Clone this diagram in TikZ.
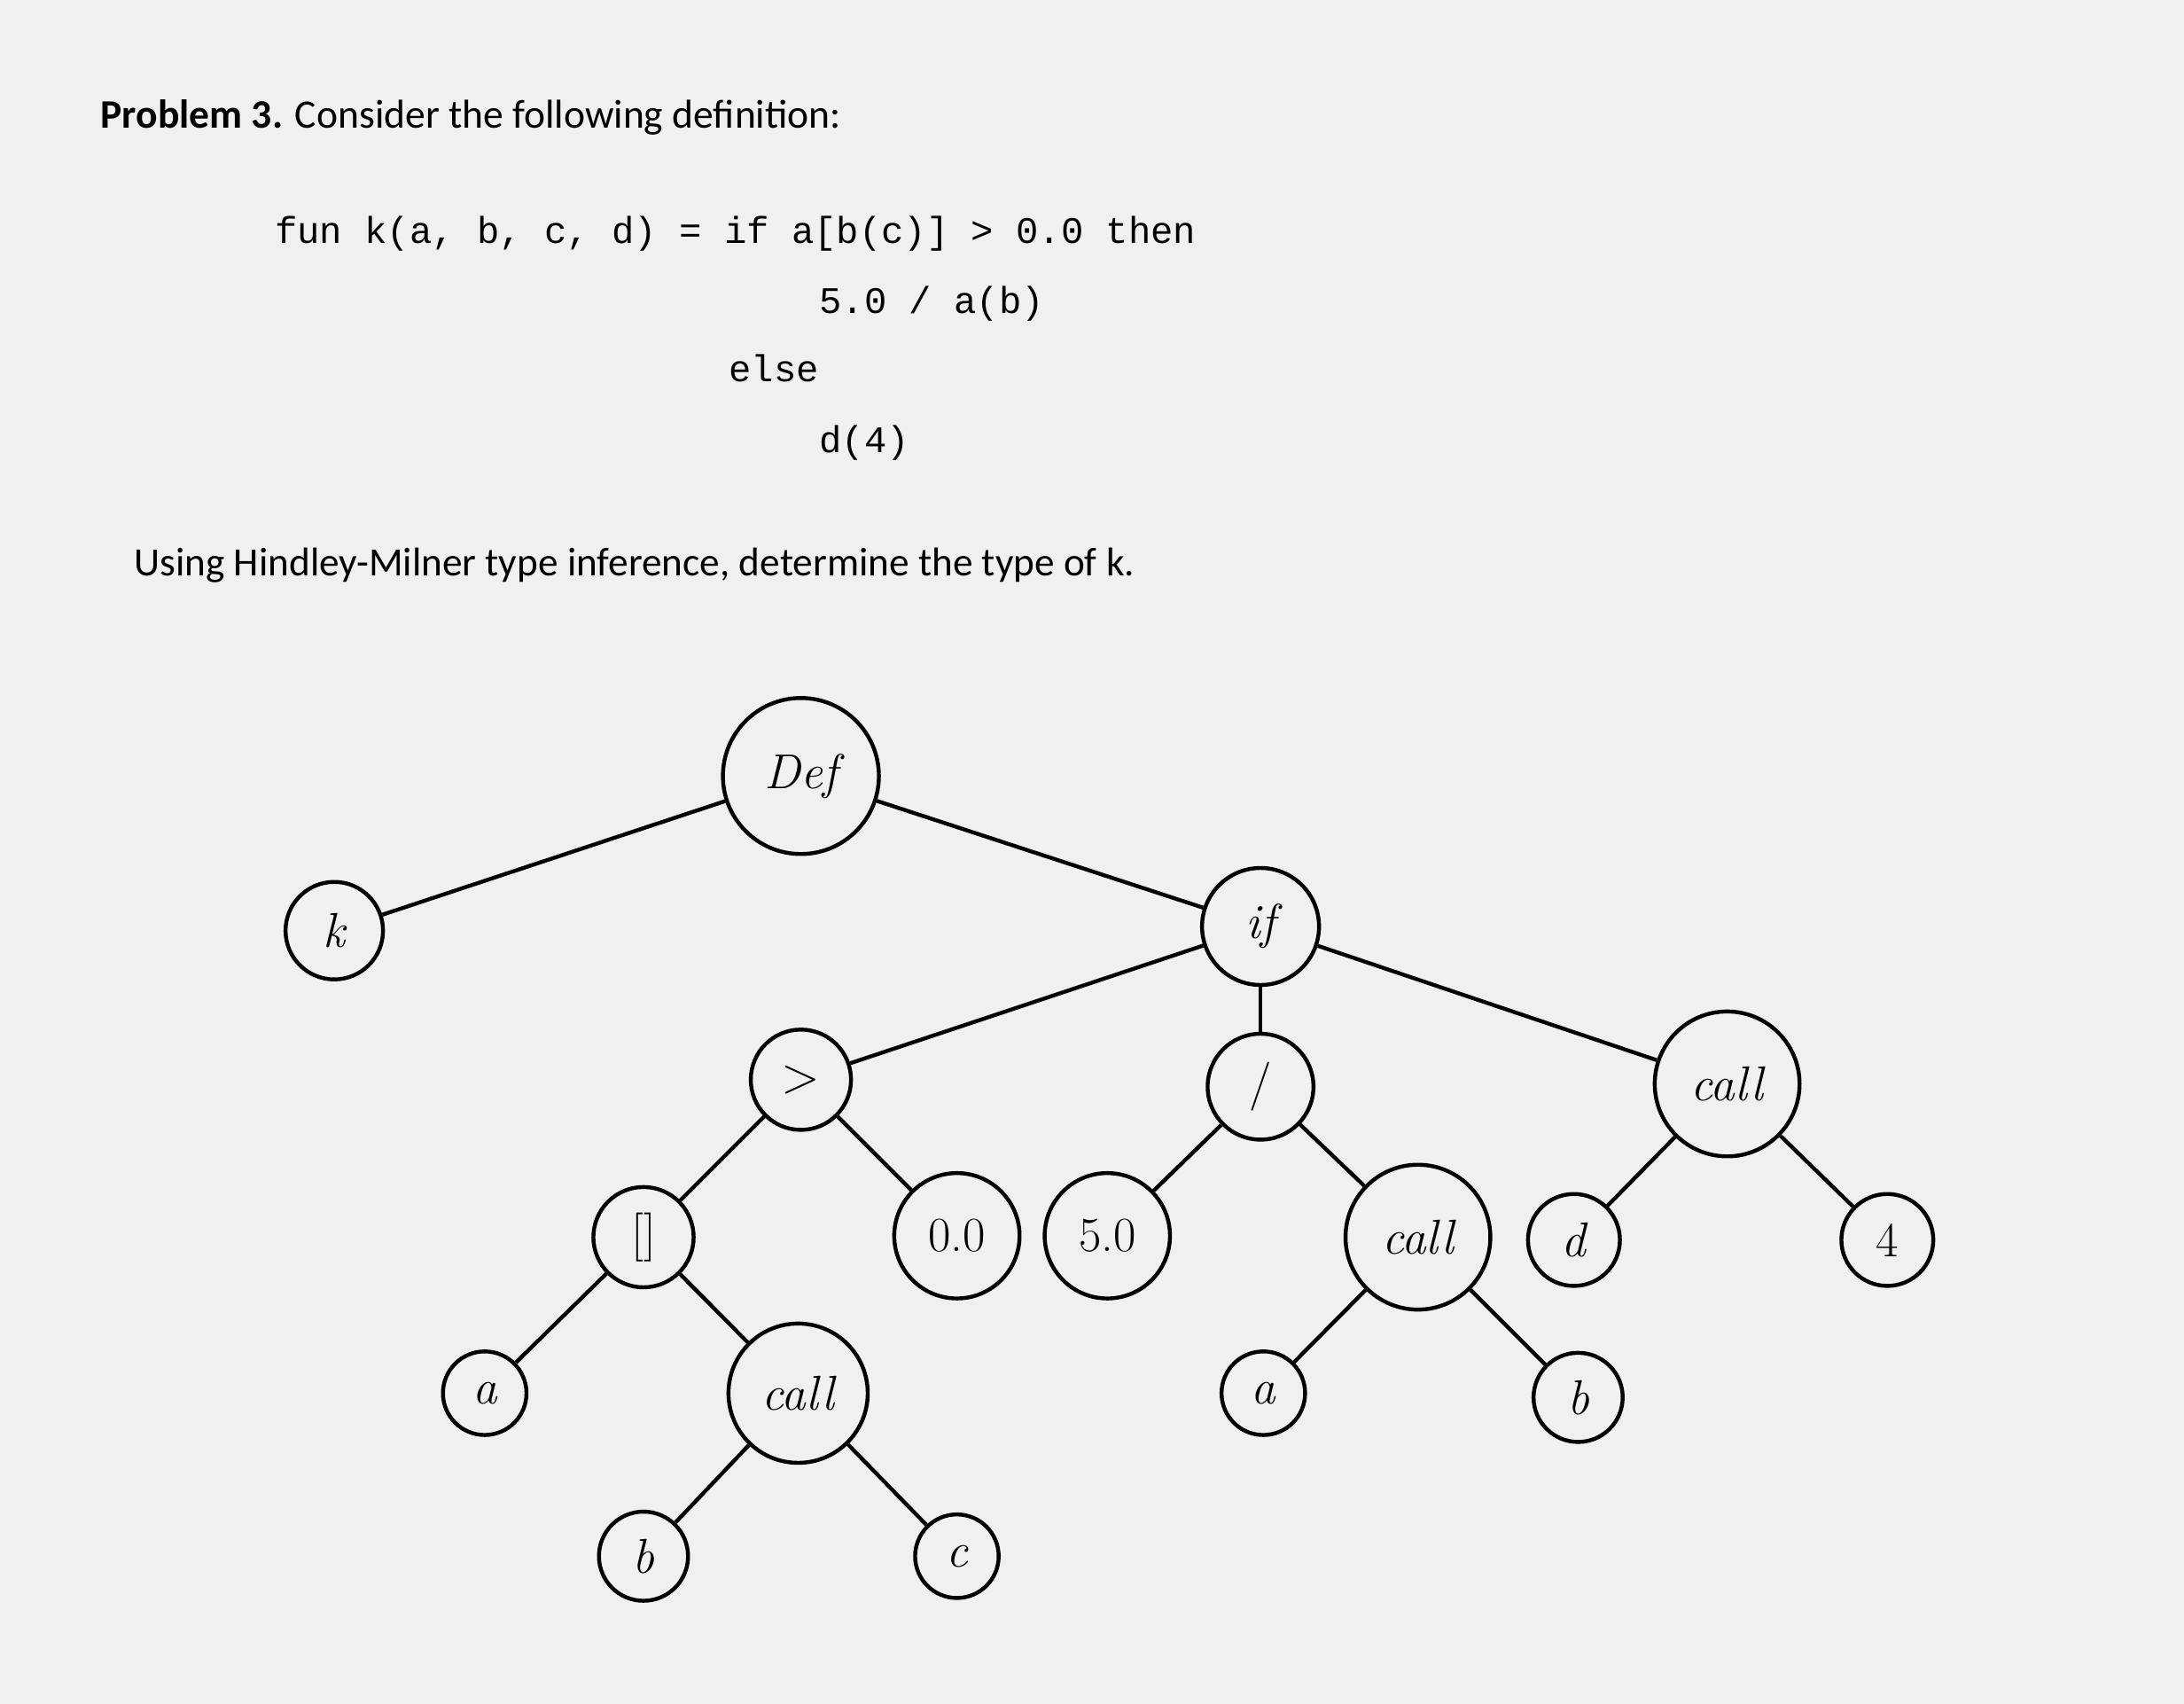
\documentclass[tikz,border=0pt]{standalone}
\usepackage{fontspec}
\setmainfont{Carlito}
\newfontfamily\codefont{Liberation Mono}
\newfontfamily\lmfont{Latin Modern Roman}
\begin{document}
\begin{tikzpicture}[x=0.02cm,y=-0.02cm,
  tn/.style={circle,draw,line width=1.6pt,inner sep=0pt,font=\lmfont\fontsize{20}{22}\selectfont\itshape},
  ed/.style={line width=1.6pt},
  code/.style={anchor=base west,inner sep=0pt,font=\codefont\fontsize{15.3}{17}\selectfont}]
\fill[gray!12] (0,0) rectangle (1568,1223);
\useasboundingbox (0,0) rectangle (1568,1223);
\node[anchor=base west,inner sep=0pt,font=\fontsize{16.5}{20}\selectfont] (t1) at (72,92) {\textbf{Problem 3.} Consider the following definition:};
\node[code] (c1) at (197,175) {fun k(a, b, c, d) = if a[b(c)] > 0.0 then};
\node[code] (c2) at (588,225) {5.0 / a(b)};
\node[code] (c3) at (523,274) {else};
\node[code] (c4) at (588,325) {d(4)};
\node[anchor=base west,inner sep=0pt,font=\fontsize{16.4}{20}\selectfont] (t2) at (96,413) {Using Hindley-Milner type inference, determine the type of k.};
\node[tn,minimum size=2.24cm] (def) at (575,557) {Def};
\node[tn,minimum size=1.4cm] (k) at (240,668) {k};
\node[tn,minimum size=1.68cm] (if) at (905,665) {if};
\node[tn,minimum size=1.44cm,font=\lmfont\fontsize{20}{22}\selectfont] (gt) at (575,775) {$>$};
\node[tn,minimum size=1.52cm,font=\lmfont\fontsize{20}{22}\selectfont] (dv) at (905,780) {/};
\node[tn,minimum size=2.08cm] (cr) at (1240,778) {call};
\node[tn,minimum size=1.44cm,font=\lmfont\fontsize{20}{22}\selectfont] (br) at (462,888) {[]};
\node[tn,minimum size=1.8cm,font=\lmfont\fontsize{20}{22}\selectfont] (z) at (687,887) {0.0};
\node[tn,minimum size=1.8cm,font=\lmfont\fontsize{20}{22}\selectfont] (f) at (795,887) {5.0};
\node[tn,minimum size=2.08cm] (cm) at (1018,888) {call};
\node[tn,minimum size=1.32cm] (d) at (1130,890) {d};
\node[tn,minimum size=1.32cm,font=\lmfont\fontsize{20}{22}\selectfont] (four) at (1355,890) {4};
\node[tn,minimum size=1.2cm] (a1) at (348,1000) {a};
\node[tn,minimum size=2cm] (cl) at (573,1000) {call};
\node[tn,minimum size=1.2cm] (a2) at (907,1000) {a};
\node[tn,minimum size=1.28cm] (b2) at (1133,1003) {b};
\node[tn,minimum size=1.28cm] (b1) at (462,1117) {b};
\node[tn,minimum size=1.2cm] (c) at (687,1117) {c};
\foreach \u/\v in {def/k,def/if,if/gt,if/dv,if/cr,gt/br,gt/z,dv/f,dv/cm,cr/d,cr/four,br/a1,br/cl,cm/a2,cm/b2,cl/b1,cl/c}
  \draw[ed] (\u) -- (\v);
\end{tikzpicture}
\end{document}
